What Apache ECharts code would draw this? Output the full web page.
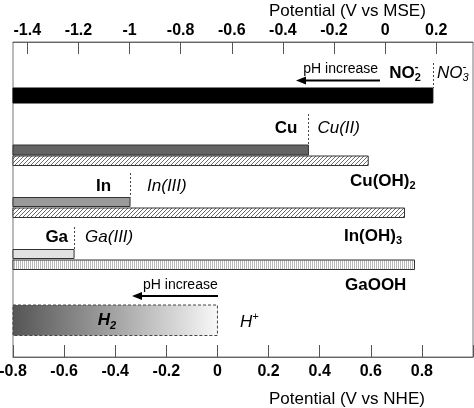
<!DOCTYPE html>
<html><head><meta charset="utf-8">
<script src="https://cdn.jsdelivr.net/npm/echarts@6/dist/echarts.min.js"></script>
<style>html,body{margin:0;padding:0;background:#fff}#c{width:474px;height:408px}</style>
</head><body><div id="c"></div>
<script>
// ---------------- data ----------------
const species = ['NO2-', 'Cu', 'Cu(OH)2', 'In', 'In(OH)3', 'Ga', 'GaOOH', 'H2'];
const potentialNHE = [0.843, 0.356, 0.590, -0.342, 0.732, -0.561, 0.771, 0.0];
const couples = ['NO2-/NO3-', 'Cu/Cu(II)', 'In/In(III)', 'Ga/Ga(III)'];
const coupleSpecies = [0, 1, 3, 5];
const nheMin = -0.8, nheMax = 1.0, nheInterval = 0.2;
const mseTicks = [-1.4, -1.2, -1, -0.8, -0.6, -0.4, -0.2, 0, 0.2];
const mseOffset = 0.656; // E(MSE) = E(NHE) - offset

// ---------------- layout / style ----------------
const FONT = '"Liberation Sans", Arial, sans-serif';
const B17 = 'bold 17px ' + FONT, B11 = 'bold 11px ' + FONT;
const I17 = 'italic 17px ' + FONT, I11 = 'italic 11px ' + FONT;
const BI17 = 'italic bold 17px ' + FONT, BI11 = 'italic bold 11px ' + FONT;
const N14 = '14px ' + FONT, N17 = '17px ' + FONT;

const rowBand = [[88,103],[145,155],[156,165.5],[197.5,206.5],[208,217.5],[249.5,258.5],[260,269.5],[305,335.5]];

function makeHatch() {
  const c = document.createElement('canvas'); c.width = 4; c.height = 4;
  const g = c.getContext('2d');
  g.fillStyle = '#fff'; g.fillRect(0,0,4,4);
  g.strokeStyle = '#6a6a6a'; g.lineWidth = 1;
  g.beginPath(); g.moveTo(0,4); g.lineTo(4,0); g.moveTo(-1,1); g.lineTo(1,-1); g.moveTo(3,5); g.lineTo(5,3); g.stroke();
  return c;
}
function makeVStripe() {
  const c = document.createElement('canvas'); c.width = 2; c.height = 2;
  const g = c.getContext('2d');
  g.fillStyle = '#fff'; g.fillRect(0,0,2,2);
  g.fillStyle = '#b8b8b8'; g.fillRect(0,0,1,2);
  return c;
}
const hatch = {image: makeHatch(), repeat: 'repeat'};
const vstripe = {image: makeVStripe(), repeat: 'repeat'};
const h2Grad = {type:'linear', x:0, y:0, x2:1, y2:0, global:false,
  colorStops:[{offset:0, color:'#555'},{offset:0.5, color:'#a4a4a4'},{offset:1, color:'#f8f8f8'}]};
const rowStyle = [
  {fill:'#000', stroke:'#000', lineWidth:1},
  {fill:'#646464', stroke:'#333', lineWidth:1},
  {fill:hatch, stroke:'#333', lineWidth:1},
  {fill:'#9a9a9a', stroke:'#333', lineWidth:1},
  {fill:hatch, stroke:'#333', lineWidth:1},
  {fill:'#e2e2e2', stroke:'#333', lineWidth:1},
  {fill:vstripe, stroke:'#333', lineWidth:1},
  {fill:h2Grad, stroke:'#444', lineWidth:1, lineDash:[3,2]}
];

// divider lines / couple labels
const divTop = [63, 114, 173, 227];
const divLabelY = [73, 128, 186, 237];
const leftGap = [12, 11, 19, 6];
const rightGap = [4, 9, 17, 11];
const leftParts = [
  [{t:'NO', f:B17}, {t:'2', f:B11, dy:4.5}, {t:'-', f:B11, dy:-6, stack:true}],
  [{t:'Cu', f:B17}],
  [{t:'In', f:B17}],
  [{t:'Ga', f:B17}]
];
const rightParts = [
  [{t:'NO', f:I17}, {t:'3', f:I11, dy:4.5}, {t:'-', f:I11, dy:-6, stack:true}],
  [{t:'Cu(II)', f:I17}],
  [{t:'In(III)', f:I17}],
  [{t:'Ga(III)', f:I17}]
];

const mctx = document.createElement('canvas').getContext('2d');
function tw(t, f) { mctx.font = f; return mctx.measureText(t).width; }
function chemLabel(x, y, align, parts) {
  let w = 0, prevX = 0; const pos = [];
  parts.forEach(p => {
    const pw = tw(p.t, p.f);
    if (p.stack) { pos.push(prevX); w = Math.max(w, prevX + pw); }
    else { pos.push(w); prevX = w; w += pw; }
  });
  const x0 = align === 'right' ? x - w : (align === 'center' ? x - w / 2 : x);
  return parts.map((p, k) => ({
    type:'text', x: x0 + pos[k], y: y + (p.dy || 0), silent:true, z:100,
    style:{text:p.t, font:p.f, fill:'#000', align:'left', verticalAlign:'middle'}
  }));
}
function arrow(x1, x2, y) {
  return [
    {type:'line', z:100, shape:{x1:x1, y1:y, x2:x2 + 8, y2:y}, style:{stroke:'#000', lineWidth:2}, silent:true},
    {type:'polygon', z:100, shape:{points:[[x2, y], [x2 + 10, y - 4], [x2 + 10, y + 4]]}, style:{fill:'#000'}, silent:true}
  ];
}

const chart = echarts.init(document.getElementById('c'), null, {renderer:'canvas'});

const graphics = [].concat(
  chemLabel(269, 11, 'left', [{t:'Potential (V vs MSE)', f:N17}]),
  chemLabel(269, 399, 'left', [{t:'Potential (V vs NHE)', f:N17}]),
  chemLabel(378, 69, 'right', [{t:'pH increase', f:N14}]),
  arrow(380, 296, 80.5),
  chemLabel(143, 285, 'left', [{t:'pH increase', f:N14}]),
  arrow(218, 132, 296),
  chemLabel(350, 181.5, 'left', [{t:'Cu(OH)', f:B17}, {t:'2', f:B11, dy:4.5}]),
  chemLabel(344, 236.5, 'left', [{t:'In(OH)', f:B17}, {t:'3', f:B11, dy:4.5}]),
  chemLabel(345, 285, 'left', [{t:'GaOOH', f:B17}]),
  chemLabel(107, 320.5, 'center', [{t:'H', f:BI17}, {t:'2', f:BI11, dy:5}]),
  chemLabel(240, 322, 'left', [{t:'H', f:I17}, {t:'+', f:I11, dy:-5}])
);

const labelFmt = v => (Math.abs(v - nheMax) < 1e-9) ? '' : String(Math.round(v * 10) / 10);

chart.setOption({
  animation:false,
  backgroundColor:'#fff',
  grid:{left:13, right:1, top:42, bottom:51, show:true, borderColor:'#777', borderWidth:1,
        containLabel:false, outerBoundsMode:'none'},
  xAxis:[
    {type:'value', position:'bottom', min:nheMin, max:nheMax, interval:nheInterval,
     axisLine:{show:true, lineStyle:{color:'#666', width:1}},
     axisTick:{show:true, inside:true, length:12, lineStyle:{color:'#555'}},
     axisLabel:{show:true, margin:7, color:'#000', fontFamily:FONT, fontWeight:'bold', fontSize:16, formatter:labelFmt, showMinLabel:true},
     splitLine:{show:false}},
    {type:'value', position:'top', min:nheMin - mseOffset, max:nheMax - mseOffset,
     axisLine:{show:true, lineStyle:{color:'#666', width:1}},
     axisTick:{show:true, inside:true, length:12, lineStyle:{color:'#555'}, customValues:mseTicks},
     axisLabel:{show:true, margin:3, color:'#000', fontFamily:FONT, fontWeight:'bold', fontSize:16, customValues:mseTicks,
       formatter: v => String(Math.round(v * 10) / 10)},
     splitLine:{show:false}}
  ],
  yAxis:{type:'value', inverse:true, min:42, max:357, show:false},
  graphic:{elements:graphics},
  series:[
    {
      type:'custom', xAxisIndex:0, yAxisIndex:0, clip:false, silent:true, z:2,
      data: species.map((s, i) => [potentialNHE[i], i]),
      encode:{x:0},
      renderItem:(params, api) => {
        const i = api.value(1), v = api.value(0);
        const b = rowBand[i];
        const p0 = api.coord([nheMin, b[0]]);
        const p1 = api.coord([v, b[1]]);
        return {type:'rect', shape:{x:p0[0], y:p0[1], width:p1[0] - p0[0], height:p1[1] - p0[1]}, style:rowStyle[i]};
      }
    },
    {
      type:'custom', xAxisIndex:0, yAxisIndex:0, clip:false, silent:true, z:3,
      data: couples.map((c, k) => [potentialNHE[coupleSpecies[k]], k]),
      encode:{x:0},
      renderItem:(params, api) => {
        const k = api.value(1), v = api.value(0);
        const pTop = api.coord([v, divTop[k]]);
        const pBot = api.coord([v, rowBand[coupleSpecies[k]][0]]);
        const x = Math.round(pTop[0]) + 0.5;
        const children = [
          {type:'line', shape:{x1:x, y1:pTop[1], x2:x, y2:pBot[1]}, style:{stroke:'#444', lineWidth:1, lineDash:[2,2]}}
        ].concat(
          chemLabel(pTop[0] - leftGap[k], divLabelY[k], 'right', leftParts[k]),
          chemLabel(pTop[0] + rightGap[k], divLabelY[k], 'left', rightParts[k])
        );
        return {type:'group', children:children};
      }
    }
  ]
});
</script></body></html>
